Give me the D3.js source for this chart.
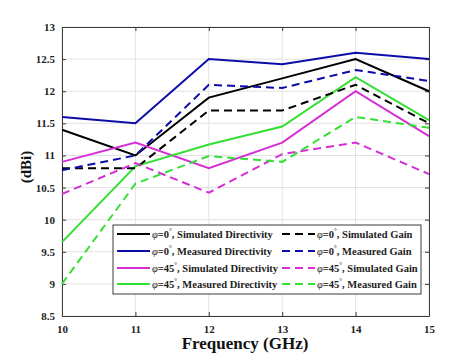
<!DOCTYPE html>
<html><head><meta charset="utf-8">
<script src="https://cdn.jsdelivr.net/npm/d3@7"></script>
<style>body{margin:0;background:#fff}svg{display:block}</style>
</head><body><div id="chart"></div>
<script>
const freqs = [10, 11, 12, 13, 14, 15];
const phi0SimDir   = [11.4, 11.0, 11.9, 12.2, 12.5, 12.0];
const phi0MeasDir  = [11.6, 11.5, 12.5, 12.42, 12.6, 12.5];
const phi45SimDir  = [10.9, 11.2, 10.8, 11.2, 12.0, 11.3];
const phi45MeasDir = [9.65, 10.83, 11.17, 11.45, 12.22, 11.55];
const phi0SimGain   = [10.8, 10.8, 11.7, 11.7, 12.1, 11.5];
const phi0MeasGain  = [10.77, 11.0, 12.1, 12.05, 12.33, 12.16];
const phi45SimGain  = [10.4, 10.88, 10.42, 11.02, 11.2, 10.71];
const phi45MeasGain = [9.0, 10.56, 10.99, 10.9, 11.6, 11.43];
const xTicks = [10, 11, 12, 13, 14, 15];
const yTicks = [8.5, 9, 9.5, 10, 10.5, 11, 11.5, 12, 12.5, 13];

const series = [
  {phi: "0", label: "Simulated Directivity", values: phi0SimDir, color: "#000000", dash: null},
  {phi: "0", label: "Measured Directivity", values: phi0MeasDir, color: "#0c0ca8", dash: null},
  {phi: "45", label: "Simulated Directivity", values: phi45SimDir, color: "#d62ed6", dash: null},
  {phi: "45", label: "Measured Directivity", values: phi45MeasDir, color: "#33e033", dash: null},
  {phi: "0", label: "Simulated Gain", values: phi0SimGain, color: "#000000", dash: "8,5"},
  {phi: "0", label: "Measured Gain", values: phi0MeasGain, color: "#0c0ca8", dash: "8,5"},
  {phi: "45", label: "Simulated Gain", values: phi45SimGain, color: "#d62ed6", dash: "8,5"},
  {phi: "45", label: "Measured Gain", values: phi45MeasGain, color: "#33e033", dash: "8,5"}
];

const W = 474, H = 355;
const L = 62, R = 429, T = 27, B = 316;
const FF = "Liberation Serif";

const svg = d3.select("#chart").append("svg").attr("width", W).attr("height", H)
  .attr("font-family", FF);
const x = d3.scaleLinear().domain([10, 15]).range([L, R]);
const y = d3.scaleLinear().domain([8.5, 13]).range([B, T]);

// grid
svg.append("g").selectAll("line").data(xTicks).join("line")
  .attr("x1", d => x(d)).attr("x2", d => x(d)).attr("y1", T).attr("y2", B)
  .attr("stroke", "#e2e2e2").attr("stroke-width", 1);
svg.append("g").selectAll("line").data(yTicks).join("line")
  .attr("x1", L).attr("x2", R).attr("y1", d => y(d)).attr("y2", d => y(d))
  .attr("stroke", "#e2e2e2").attr("stroke-width", 1);

// axes
const xAxis = svg.append("g").attr("transform", `translate(0,${B})`)
  .call(d3.axisBottom(x).tickValues(xTicks).tickFormat(d3.format("d")).tickSizeInner(-4).tickSizeOuter(0).tickPadding(9));
const yAxis = svg.append("g").attr("transform", `translate(${L},0)`)
  .call(d3.axisLeft(y).tickValues(yTicks).tickFormat(d => String(d)).tickSizeInner(-4).tickSizeOuter(0).tickPadding(7));
const xTop = svg.append("g").attr("transform", `translate(0,${T})`)
  .call(d3.axisTop(x).tickValues(xTicks).tickFormat("").tickSizeInner(-4).tickSizeOuter(0));
const yRight = svg.append("g").attr("transform", `translate(${R},0)`)
  .call(d3.axisRight(y).tickValues(yTicks).tickFormat("").tickSizeInner(-4).tickSizeOuter(0));
[xAxis, yAxis, xTop, yRight].forEach(g => {
  g.attr("font-family", FF);
  g.select(".domain").attr("stroke", "#3a3a3a").attr("stroke-width", 1);
  g.selectAll(".tick line").attr("stroke", "#3a3a3a");
  g.selectAll("text").attr("font-family", FF).attr("font-weight", "bold")
    .attr("font-size", 11).attr("fill", "#222");
});

// lines
const line = d3.line().x((d, i) => x(freqs[i])).y(d => y(d));
svg.append("g").selectAll("path").data(series).join("path")
  .attr("d", d => line(d.values))
  .attr("fill", "none").attr("stroke", d => d.color).attr("stroke-width", 2)
  .attr("stroke-dasharray", d => d.dash);

// legend
const lg = svg.append("g");
lg.append("rect").attr("x", 113).attr("y", 225).attr("width", 308).attr("height", 69)
  .attr("fill", "#fff").attr("stroke", "#3a3a3a").attr("stroke-width", 1);
const rowY = [234, 251, 268, 284];
series.forEach((s, i) => {
  const col = Math.floor(i / 4), row = i % 4;
  const x0 = col === 0 ? 117 : 282;
  const yy = rowY[row];
  lg.append("line").attr("x1", x0).attr("x2", x0 + 33).attr("y1", yy).attr("y2", yy)
    .attr("stroke", s.color).attr("stroke-width", 2).attr("stroke-dasharray", s.dash);
  const t = lg.append("text").attr("x", x0 + 35).attr("y", yy + 4).attr("font-family", FF)
    .attr("font-weight", "bold").attr("font-size", 10.5).attr("fill", "#222");
  t.append("tspan").attr("font-style", "italic").attr("font-weight", "normal").text("φ");
  t.append("tspan").text("=" + s.phi);
  t.append("tspan").attr("dy", -5).attr("font-size", 7).attr("font-weight", "normal").text("°");
  t.append("tspan").attr("dy", 5).text(", " + s.label);
});

// axis titles
svg.append("text").attr("x", 245).attr("y", 349).attr("text-anchor", "middle").attr("font-family", FF)
  .attr("font-weight", "bold").attr("font-size", 17).attr("fill", "#111")
  .text("Frequency (GHz)");
svg.append("text").attr("transform", "translate(31,167) rotate(-90)").attr("text-anchor", "middle").attr("font-family", FF)
  .attr("font-weight", "bold").attr("font-size", 15).attr("fill", "#111")
  .text("(dBi)");
</script></body></html>
